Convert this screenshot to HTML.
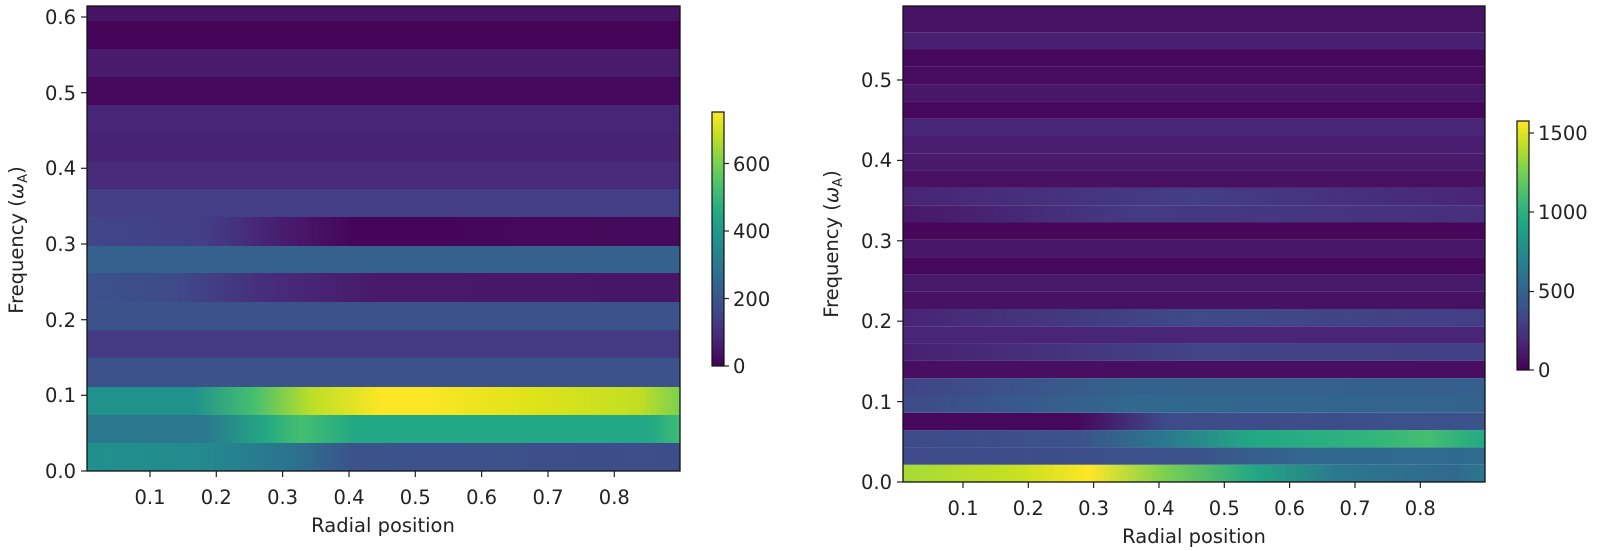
<!DOCTYPE html>
<html><head><meta charset="utf-8"><style>
html,body{margin:0;padding:0;background:#fff}
svg{display:block}
text{font-family:"DejaVu Sans","Liberation Sans",sans-serif;fill:#222}
</style></head><body>
<svg width="1600" height="551" viewBox="0 0 1600 551" xmlns="http://www.w3.org/2000/svg">
<defs>
<linearGradient id="L0"><stop offset="0" stop-color="#21918c"/><stop offset=".2" stop-color="#23898e"/><stop offset=".35" stop-color="#2c728e"/><stop offset=".45" stop-color="#3b528b"/><stop offset="1" stop-color="#3d4d8a"/></linearGradient>
<linearGradient id="L1"><stop offset="0" stop-color="#2a788e"/><stop offset=".2" stop-color="#2a788e"/><stop offset=".3" stop-color="#22a884"/><stop offset=".36" stop-color="#44bf70"/><stop offset=".45" stop-color="#22a884"/><stop offset=".95" stop-color="#22a884"/><stop offset="1" stop-color="#3dbc74"/></linearGradient>
<linearGradient id="L2"><stop offset="0" stop-color="#21918c"/><stop offset=".18" stop-color="#21918c"/><stop offset=".28" stop-color="#44bf70"/><stop offset=".38" stop-color="#bddf26"/><stop offset=".5" stop-color="#fde725"/><stop offset=".56" stop-color="#fde725"/><stop offset=".75" stop-color="#dfe318"/><stop offset=".93" stop-color="#c2df23"/><stop offset="1" stop-color="#7ad151"/></linearGradient>
<linearGradient id="L6"><stop offset="0" stop-color="#3b528b"/><stop offset=".15" stop-color="#3e4a89"/><stop offset=".3" stop-color="#472d7b"/><stop offset=".5" stop-color="#48186a"/><stop offset="1" stop-color="#481668"/></linearGradient>
<linearGradient id="L8"><stop offset="0" stop-color="#404688"/><stop offset=".2" stop-color="#433e85"/><stop offset=".35" stop-color="#48186a"/><stop offset=".45" stop-color="#450559"/><stop offset="1" stop-color="#450a5b"/></linearGradient>
<linearGradient id="R0"><stop offset="0" stop-color="#a5db36"/><stop offset=".2" stop-color="#c8e020"/><stop offset=".32" stop-color="#fde725"/><stop offset=".45" stop-color="#7ad151"/><stop offset=".6" stop-color="#22a884"/><stop offset=".75" stop-color="#2a788e"/><stop offset=".95" stop-color="#31688e"/><stop offset="1" stop-color="#2a788e"/></linearGradient>
<linearGradient id="R1"><stop offset="0" stop-color="#3e4a89"/><stop offset=".5" stop-color="#3b528b"/><stop offset=".7" stop-color="#31688e"/><stop offset="1" stop-color="#2f6b8e"/></linearGradient>
<linearGradient id="R2"><stop offset="0" stop-color="#3e4a89"/><stop offset=".3" stop-color="#3b528b"/><stop offset=".45" stop-color="#2a788e"/><stop offset=".6" stop-color="#22a884"/><stop offset=".8" stop-color="#2fb47c"/><stop offset=".9" stop-color="#44bf70"/><stop offset="1" stop-color="#22a884"/></linearGradient>
<linearGradient id="R3"><stop offset="0" stop-color="#46085c"/><stop offset=".3" stop-color="#46085c"/><stop offset=".45" stop-color="#3e4a89"/><stop offset="1" stop-color="#3b528b"/></linearGradient>
<linearGradient id="R4"><stop offset="0" stop-color="#3e4a89"/><stop offset=".4" stop-color="#31688e"/><stop offset="1" stop-color="#33638d"/></linearGradient>
<linearGradient id="R5"><stop offset="0" stop-color="#414487"/><stop offset=".4" stop-color="#33638d"/><stop offset="1" stop-color="#355f8d"/></linearGradient>
<linearGradient id="R7"><stop offset="0" stop-color="#482071"/><stop offset=".5" stop-color="#414487"/><stop offset="1" stop-color="#424086"/></linearGradient>
<linearGradient id="R9"><stop offset="0" stop-color="#482475"/><stop offset=".5" stop-color="#3e4a89"/><stop offset="1" stop-color="#433e85"/></linearGradient>
<linearGradient id="R16"><stop offset="0" stop-color="#481769"/><stop offset=".4" stop-color="#443a83"/><stop offset="1" stop-color="#472f7d"/></linearGradient>
<linearGradient id="R17"><stop offset="0" stop-color="#482475"/><stop offset=".5" stop-color="#433e85"/><stop offset="1" stop-color="#482576"/></linearGradient>
<linearGradient id="V" x1="0" y1="1" x2="0" y2="0"><stop offset="0" stop-color="#440154"/><stop offset=".1" stop-color="#482475"/><stop offset=".2" stop-color="#414487"/><stop offset=".3" stop-color="#355f8d"/><stop offset=".4" stop-color="#2a788e"/><stop offset=".5" stop-color="#21918c"/><stop offset=".6" stop-color="#22a884"/><stop offset=".7" stop-color="#44bf70"/><stop offset=".8" stop-color="#7ad151"/><stop offset=".9" stop-color="#bddf26"/><stop offset="1" stop-color="#fde725"/></linearGradient>
</defs>

<g>
<rect x="87" y="443" width="593" height="28" fill="url(#L0)"/>
<rect x="87" y="415" width="593" height="28" fill="url(#L1)"/>
<rect x="87" y="387" width="593" height="28" fill="url(#L2)"/>
<rect x="87" y="358" width="593" height="29" fill="#3b528b"/>
<rect x="87" y="330" width="593" height="28" fill="#443983"/>
<rect x="87" y="302" width="593" height="28" fill="#3b528b"/>
<rect x="87" y="273" width="593" height="29" fill="url(#L6)"/>
<rect x="87" y="246" width="593" height="27" fill="#34618d"/>
<rect x="87" y="217" width="593" height="29" fill="url(#L8)"/>
<rect x="87" y="189" width="593" height="28" fill="#433e85"/>
<rect x="87" y="161" width="593" height="28" fill="#482a7a"/>
<rect x="87" y="133" width="593" height="28" fill="#482374"/>
<rect x="87" y="105" width="593" height="28" fill="#482677"/>
<rect x="87" y="77" width="593" height="28" fill="#46085c"/>
<rect x="87" y="49" width="593" height="28" fill="#481b6d"/>
<rect x="87" y="21" width="593" height="28" fill="#45065a"/>
<rect x="87" y="6" width="593" height="15" fill="#471365"/>
<rect x="87" y="6" width="593" height="465" fill="none" stroke="#111" stroke-width="1.3"/>
</g>
<g stroke="#222" stroke-width="1.2">
<line x1="87" y1="471" x2="81" y2="471"/><line x1="87" y1="395.3" x2="81" y2="395.3"/><line x1="87" y1="319.7" x2="81" y2="319.7"/><line x1="87" y1="244" x2="81" y2="244"/><line x1="87" y1="168.3" x2="81" y2="168.3"/><line x1="87" y1="92.7" x2="81" y2="92.7"/><line x1="87" y1="17" x2="81" y2="17"/>
<line x1="150" y1="471" x2="150" y2="477"/><line x1="216.3" y1="471" x2="216.3" y2="477"/><line x1="282.6" y1="471" x2="282.6" y2="477"/><line x1="349" y1="471" x2="349" y2="477"/><line x1="415.3" y1="471" x2="415.3" y2="477"/><line x1="481.6" y1="471" x2="481.6" y2="477"/><line x1="548" y1="471" x2="548" y2="477"/><line x1="614.3" y1="471" x2="614.3" y2="477"/>
</g>
<g font-size="19.5" text-anchor="end">
<text x="76" y="478">0.0</text><text x="76" y="402">0.1</text><text x="76" y="327">0.2</text><text x="76" y="251">0.3</text><text x="76" y="175">0.4</text><text x="76" y="100">0.5</text><text x="76" y="24">0.6</text>
</g>
<g font-size="19.5" text-anchor="middle">
<text x="150" y="504">0.1</text><text x="216.3" y="504">0.2</text><text x="282.6" y="504">0.3</text><text x="349" y="504">0.4</text><text x="415.3" y="504">0.5</text><text x="481.6" y="504">0.6</text><text x="548" y="504">0.7</text><text x="614.3" y="504">0.8</text>
<text x="383" y="532">Radial position</text>
<text transform="translate(23,240) rotate(-90)">Frequency (<tspan font-style="italic">ω</tspan><tspan font-size="13" dy="4">A</tspan><tspan dy="-4">)</tspan></text>
</g>
<rect x="712" y="112" width="12" height="254" fill="url(#V)" stroke="#111" stroke-width="1.2"/>
<g stroke="#222" stroke-width="1.2"><line x1="724" y1="366" x2="729" y2="366"/><line x1="724" y1="298.5" x2="729" y2="298.5"/><line x1="724" y1="231" x2="729" y2="231"/><line x1="724" y1="163.5" x2="729" y2="163.5"/></g>
<g font-size="19.5"><text x="733" y="373">0</text><text x="733" y="306">200</text><text x="733" y="238">400</text><text x="733" y="171">600</text></g>

<g>
<rect x="903" y="464.7" width="582" height="17.3" fill="url(#R0)"/>
<rect x="903" y="447.4" width="582" height="17.3" fill="url(#R1)"/>
<rect x="903" y="430.1" width="582" height="17.3" fill="url(#R2)"/>
<rect x="903" y="412.8" width="582" height="17.3" fill="url(#R3)"/>
<rect x="903" y="395.5" width="582" height="17.3" fill="url(#R4)"/>
<rect x="903" y="378.2" width="582" height="17.3" fill="url(#R5)"/>
<rect x="903" y="360.9" width="582" height="17.3" fill="#470e61"/>
<rect x="903" y="343.6" width="582" height="17.3" fill="url(#R7)"/>
<rect x="903" y="326.3" width="582" height="17.3" fill="#482576"/>
<rect x="903" y="309" width="582" height="17.3" fill="url(#R9)"/>
<rect x="903" y="291.7" width="582" height="17.3" fill="#471164"/>
<rect x="903" y="274.4" width="582" height="17.3" fill="#481a6c"/>
<rect x="903" y="257.1" width="582" height="17.3" fill="#46085c"/>
<rect x="903" y="239.8" width="582" height="17.3" fill="#481769"/>
<rect x="903" y="222.5" width="582" height="17.3" fill="#46075a"/>
<rect x="903" y="205.2" width="582" height="17.3" fill="url(#R16)"/>
<rect x="903" y="187.9" width="582" height="17.3" fill="url(#R17)"/>
<rect x="903" y="170.6" width="582" height="17.3" fill="#471063"/>
<rect x="903" y="153.3" width="582" height="17.3" fill="#481a6c"/>
<rect x="903" y="136" width="582" height="17.3" fill="#481c6e"/>
<rect x="903" y="118.7" width="582" height="17.3" fill="#482677"/>
<rect x="903" y="101.4" width="582" height="17.3" fill="#46085c"/>
<rect x="903" y="84.1" width="582" height="17.3" fill="#481769"/>
<rect x="903" y="66.8" width="582" height="17.3" fill="#470c5f"/>
<rect x="903" y="49.5" width="582" height="17.3" fill="#46085c"/>
<rect x="903" y="32.2" width="582" height="17.3" fill="#482071"/>
<rect x="903" y="6" width="582" height="26.2" fill="#471365"/>
<rect x="903" y="6" width="582" height="476" fill="none" stroke="#111" stroke-width="1.3"/>
</g>
<g stroke="#222" stroke-width="1.2">
<line x1="903" y1="482" x2="897" y2="482"/><line x1="903" y1="401.6" x2="897" y2="401.6"/><line x1="903" y1="321.2" x2="897" y2="321.2"/><line x1="903" y1="240.8" x2="897" y2="240.8"/><line x1="903" y1="160.4" x2="897" y2="160.4"/><line x1="903" y1="80" x2="897" y2="80"/>
<line x1="963" y1="482" x2="963" y2="488"/><line x1="1028.3" y1="482" x2="1028.3" y2="488"/><line x1="1093.6" y1="482" x2="1093.6" y2="488"/><line x1="1159" y1="482" x2="1159" y2="488"/><line x1="1224.3" y1="482" x2="1224.3" y2="488"/><line x1="1289.6" y1="482" x2="1289.6" y2="488"/><line x1="1355" y1="482" x2="1355" y2="488"/><line x1="1420.3" y1="482" x2="1420.3" y2="488"/>
</g>
<g font-size="19.5" text-anchor="end">
<text x="892" y="489">0.0</text><text x="892" y="409">0.1</text><text x="892" y="328">0.2</text><text x="892" y="248">0.3</text><text x="892" y="167">0.4</text><text x="892" y="87">0.5</text>
</g>
<g font-size="19.5" text-anchor="middle">
<text x="963" y="515">0.1</text><text x="1028.3" y="515">0.2</text><text x="1093.6" y="515">0.3</text><text x="1159" y="515">0.4</text><text x="1224.3" y="515">0.5</text><text x="1289.6" y="515">0.6</text><text x="1355" y="515">0.7</text><text x="1420.3" y="515">0.8</text>
<text x="1194" y="543">Radial position</text>
<text transform="translate(838,244) rotate(-90)">Frequency (<tspan font-style="italic">ω</tspan><tspan font-size="13" dy="4">A</tspan><tspan dy="-4">)</tspan></text>
</g>
<rect x="1517" y="121" width="12" height="249" fill="url(#V)" stroke="#111" stroke-width="1.2"/>
<g stroke="#222" stroke-width="1.2"><line x1="1529" y1="370" x2="1534" y2="370"/><line x1="1529" y1="291.5" x2="1534" y2="291.5"/><line x1="1529" y1="212" x2="1534" y2="212"/><line x1="1529" y1="133" x2="1534" y2="133"/></g>
<g font-size="19.5"><text x="1538" y="377">0</text><text x="1538" y="298">500</text><text x="1538" y="219">1000</text><text x="1538" y="140">1500</text></g>
</svg>
</body></html>
